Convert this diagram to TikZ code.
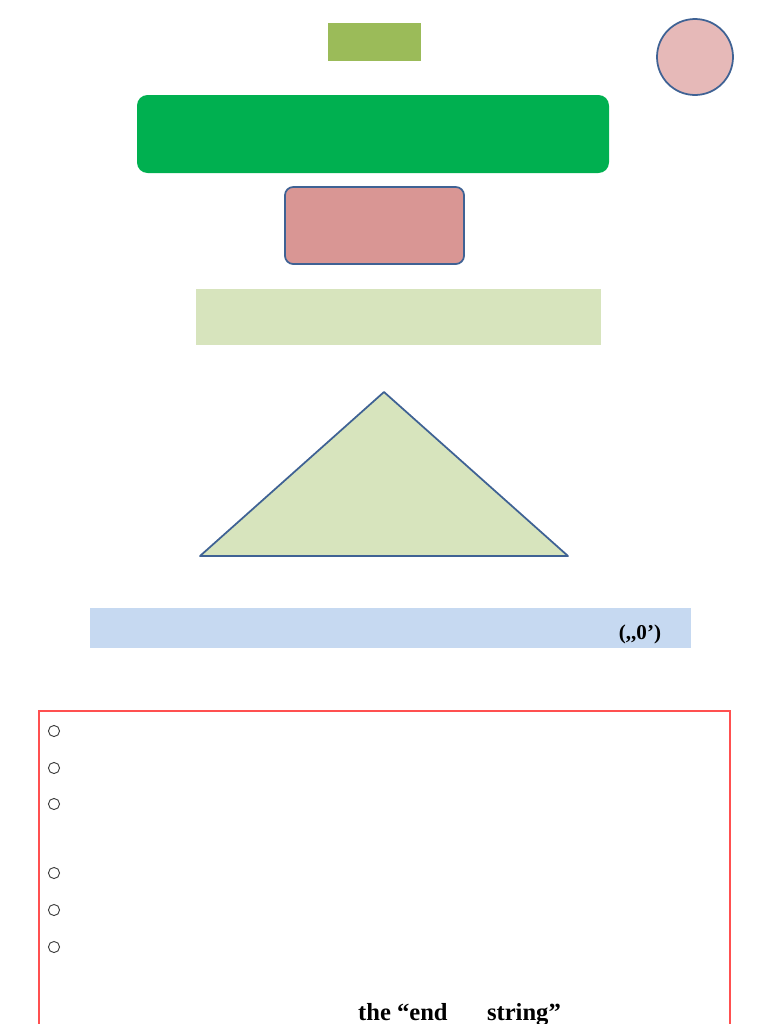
\documentclass[tikz,border=0pt]{standalone}
\usepackage{fontspec}
\setmainfont{Liberation Serif}
\definecolor{olive}{HTML}{9BBB59}
\definecolor{brightgreen}{HTML}{00B050}
\definecolor{rose}{HTML}{D99694}
\definecolor{palegreen}{HTML}{D7E4BD}
\definecolor{paleblue}{HTML}{C6D9F1}
\definecolor{palerose}{HTML}{E6B9B8}
\definecolor{edgeblue}{HTML}{3F6294}
\definecolor{boxred}{HTML}{FF5050}

\begin{document}
\begin{tikzpicture}[x=0.03cm,y=-0.03cm,
  block/.style={inner sep=0pt,outer sep=0pt},
  bullet/.style={circle,draw=black!75,line width=0.8pt,minimum size=9.5pt,inner sep=0pt}]
  \useasboundingbox (0,0) rectangle (768,1024);
  \node[block,fill=olive,minimum width=93*0.03cm,minimum height=38*0.03cm] (top) at (374.5,42) {};
  \node[block,fill=brightgreen,rounded corners=9pt,minimum width=472*0.03cm,minimum height=78*0.03cm] (banner) at (373,134) {};
  \node[block,fill=rose,draw=edgeblue,line width=1.5pt,rounded corners=7pt,minimum width=179*0.03cm,minimum height=77*0.03cm] (pinkbox) at (374.5,225.5) {};
  \node[block,fill=palegreen,minimum width=405*0.03cm,minimum height=56*0.03cm] (band) at (398.5,317) {};
  \draw[fill=palegreen,draw=edgeblue,line width=1.5pt,line join=round] (384,392) coordinate (apex) -- (568,556) -- (200,556) -- cycle;
  \node[block,fill=paleblue,minimum width=601*0.03cm,minimum height=40*0.03cm] (bar) at (390.5,628) {};
  \node[font=\bfseries\fontsize{18}{20}\selectfont] (mark) at (640,634) {({,}{,}0’)};
  \node[circle,fill=palerose,draw=edgeblue,line width=1.5pt,minimum size=76*0.03cm,inner sep=0pt] (dot) at (695,57) {};
  \draw[boxred,line width=1.1pt] (39,1030) -- (39,711) -- (730,711) -- (730,1030);
  \foreach \i/\y in {1/731,2/768,3/804,4/873,5/910,6/947}
    \node[bullet] (b\i) at (54,\y) {};
  \node[font=\bfseries\fontsize{21}{24}\selectfont,anchor=base west] (tail) at (354,1020) {the “end\hspace{1.6em}string”};
\end{tikzpicture}
\end{document}
